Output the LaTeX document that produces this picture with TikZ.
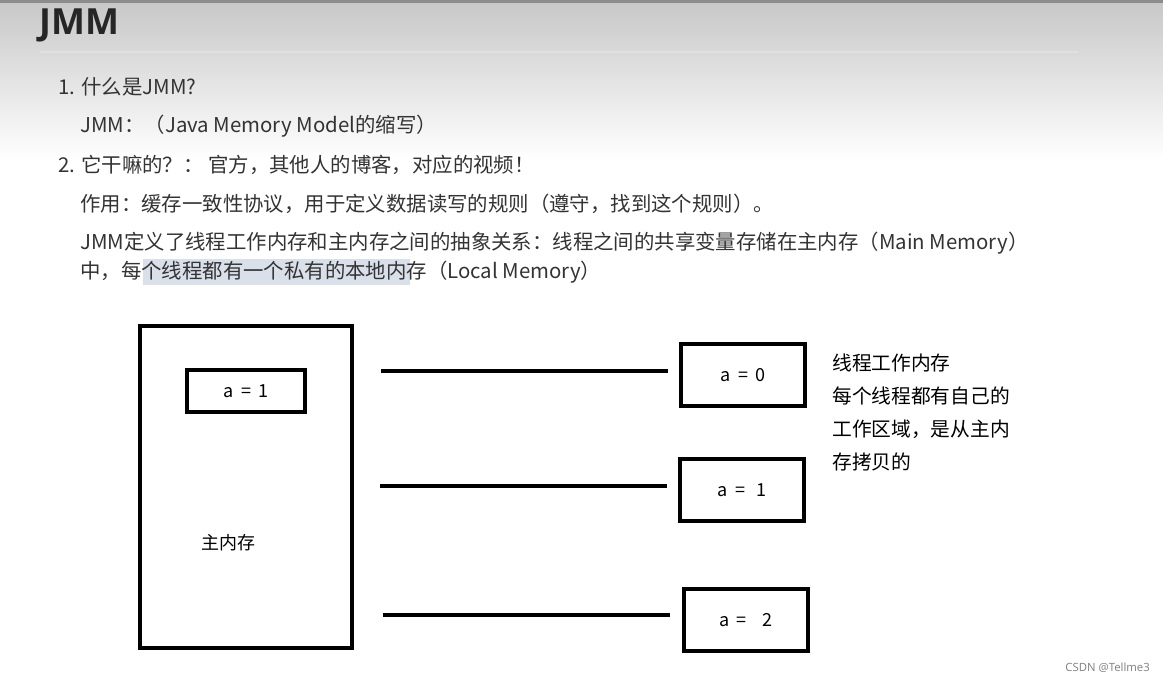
\documentclass[tikz,border=0pt]{standalone}
\usepackage{fontspec}
\setmainfont{Open Sans}
\newfontfamily\cjk{Noto Sans CJK SC}
\definecolor{hl}{RGB}{218,224,234}
\begin{document}
\begin{tikzpicture}[x=0.75pt,y=-0.75pt,
  txt/.style={anchor=west,inner sep=0pt,font=\cjk\fontsize{15.3}{17}\selectfont,text=black!80},
  box/.style={draw=black,line width=3pt,inner sep=0pt},
  link/.style={line width=3pt},
  lbl/.style={font=\cjk\fontsize{13.5}{15}\selectfont,inner sep=0pt}]
\useasboundingbox (0,0) rectangle (1163,683);
\fill[white] (0,0) rectangle (1163,683);
\shade[top color=black!22,bottom color=white] (0,0) rectangle (1163,160);
\fill[black!45] (0,0) rectangle (1163,3);
\node[anchor=west,inner sep=0pt,font=\bfseries\fontsize{27}{30}\selectfont,text=black!85] (title) at (39,25) {JMM};
\draw[black!12,line width=0.8pt] (40,52) -- (1078,52);
\fill[hl] (143,259) rectangle (410,285);
\node[txt] (l1) at (58,87) {1. 什么是JMM?};
\node[txt] (l2) at (80,126) {JMM：（Java Memory Model的缩写）};
\node[txt] (l3) at (58,165) {2. 它干嘛的？： 官方，其他人的博客，对应的视频！};
\node[txt] (l4) at (80,204) {作用：缓存一致性协议，用于定义数据读写的规则（遵守，找到这个规则）。};
\node[txt] (l5) at (80,243) {JMM定义了线程工作内存和主内存之间的抽象关系：线程之间的共享变量存储在主内存（Main Memory）};
\node[txt] (l6) at (80,272) {中，每个线程都有一个私有的本地内存（Local Memory）};
\node[box,minimum width=159pt,minimum height=241pt] (main) at (246,487) {};
\node[box,minimum width=88pt,minimum height=32pt,lbl] (m1) at (246,391) {a\hspace{0.4em}=\hspace{0.4em}1\hspace{2.2em}};
\node[lbl] (mt) at (228,543) {主内存};
\node[box,minimum width=93pt,minimum height=46pt,lbl] (w0) at (743,375) {a\hspace{0.4em}=\hspace{0.4em}0};
\node[box,minimum width=93pt,minimum height=47pt,lbl] (w1) at (742,490) {a\hspace{0.4em}=\hspace{0.6em}1};
\node[box,minimum width=93pt,minimum height=47pt,lbl] (w2) at (746,620) {a\hspace{0.4em}=\hspace{0.9em}2};
\coordinate (s0) at (381,371); \coordinate (e0) at (668,371);
\coordinate (s1) at (380,486); \coordinate (e1) at (667,486);
\coordinate (s2) at (383,615); \coordinate (e2) at (670,615);
\draw[link] (s0) -- (e0);
\draw[link] (s1) -- (e1);
\draw[link] (s2) -- (e2);
\node[anchor=west,inner sep=0pt,align=left,font=\cjk\fontsize{14.8}{24.75}\selectfont] (note) at (832,412) {线程工作内存\\每个线程都有自己的\\工作区域，是从主内\\存拷贝的};
\node[anchor=east,inner sep=0pt,font=\fontsize{8.5}{10}\selectfont,text=black!50] (wm) at (1150,668) {CSDN @Tellme3};
\end{tikzpicture}
\end{document}
